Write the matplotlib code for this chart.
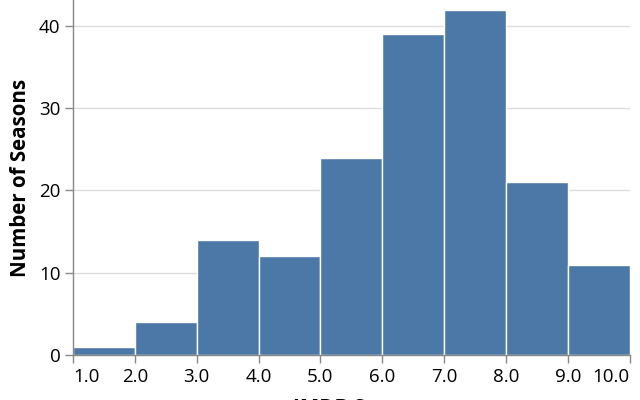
import numpy as np
import matplotlib
matplotlib.use("Agg")
import matplotlib.pyplot as plt

plt.rcParams['font.family'] = ['Open Sans', 'DejaVu Sans']

# histogram of IMDB scores (bin edges 1..10)
bin_edges = [1, 2, 3, 4, 5, 6, 7, 8, 9, 10]
counts = [1, 4, 14, 12, 24, 39, 42, 21, 11]
x_ticks = [1.0, 2.0, 3.0, 4.0, 5.0, 6.0, 7.0, 8.0, 9.0, 10.0]
y_ticks = [0, 10, 20, 30, 40]

fig = plt.figure(figsize=(6.4, 4.0), dpi=100)
ax = fig.add_axes([0.114, 0.1125, 0.870, 0.8875])

left = np.array(bin_edges[:-1])
widths = np.diff(bin_edges)
ax.bar(left, counts, width=widths, align='edge', color='#4c78a8',
       edgecolor='white', linewidth=1.0, zorder=2)

ax.set_xlim(1, 10)
ax.set_ylim(0, 43.16)
ax.set_xticks(x_ticks)
ax.set_xticklabels(['%.1f' % v for v in x_ticks])
ax.set_yticks(y_ticks)

ax.grid(axis='y', color='#dddddd', linewidth=1, zorder=0)
ax.set_axisbelow(True)
for s in ['top', 'right']:
    ax.spines[s].set_visible(False)
for s in ['left', 'bottom']:
    ax.spines[s].set_color('#888888')
    ax.spines[s].set_linewidth(1)
ax.tick_params(axis='both', length=5.5, width=1, color='#888888',
               labelsize=13.5, labelcolor='black', pad=3.5)

# first and last x labels flush with the axis ends
xl = ax.get_xticklabels()
xl[0].set_ha('left')
xl[-1].set_ha('right')

ax.set_ylabel('Number of Seasons', fontsize=14.8, fontweight='bold', labelpad=6)
ax.set_xlabel('IMDB Score', fontsize=14.8, fontweight='bold', labelpad=9)

fig.savefig('out.png', dpi=100)
plt.close()
